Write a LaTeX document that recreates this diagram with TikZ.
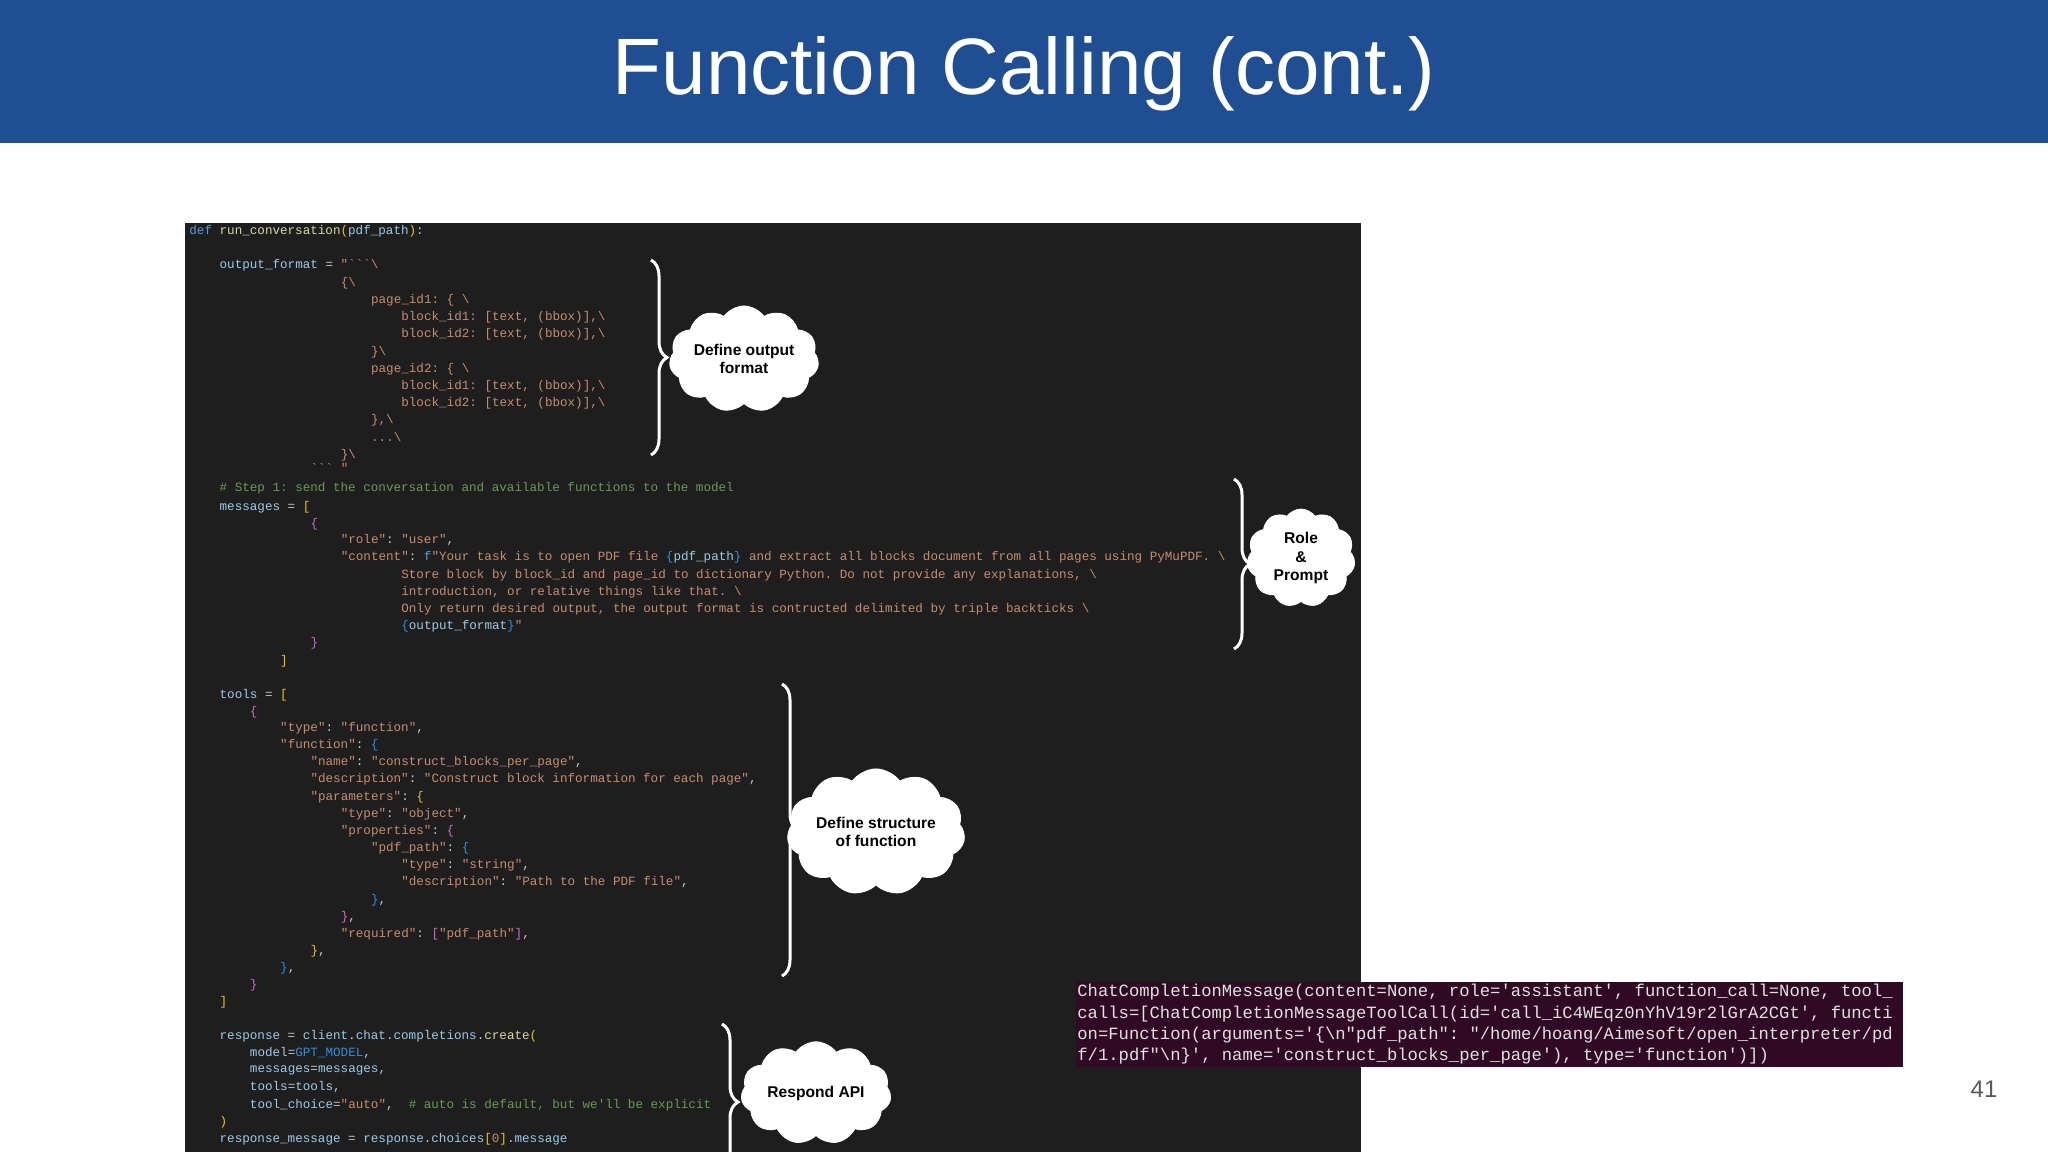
\documentclass[tikz,border=0pt]{standalone}
\usepackage{fontspec}
\setmainfont{Liberation Sans}
\setmonofont{Liberation Mono}
\usetikzlibrary{shapes.symbols,decorations.pathreplacing}
\definecolor{titlebar}{HTML}{1F4E93}
\definecolor{codebg}{HTML}{1E1E1E}
\definecolor{termbg}{HTML}{300A24}
\definecolor{cid}{HTML}{9CCBEA}
\definecolor{cst}{HTML}{C98C6F}
\definecolor{ccm}{HTML}{6A9955}
\definecolor{ckw}{HTML}{569CD6}
\definecolor{cfn}{HTML}{D8D8A6}
\definecolor{cyl}{HTML}{E8C21A}
\definecolor{cpu}{HTML}{C86CC6}
\definecolor{cbl}{HTML}{2B8FE0}
\definecolor{cop}{HTML}{C8C8C8}
\newcommand\xid[1]{\textcolor{cid}{#1}}
\newcommand\xst[1]{\textcolor{cst}{#1}}
\newcommand\xcm[1]{\textcolor{ccm}{#1}}
\newcommand\xkw[1]{\textcolor{ckw}{#1}}
\newcommand\xfn[1]{\textcolor{cfn}{#1}}
\newcommand\xyl[1]{\textcolor{cyl}{#1}}
\newcommand\xpu[1]{\textcolor{cpu}{#1}}
\newcommand\xbl[1]{\textcolor{cbl}{#1}}
\newcommand\xop[1]{\textcolor{cop}{#1}}
\newcommand\bs{\textbackslash}
\newcommand\cl[4]{\node[code] (#1) at ({189+7.57*#2},#3) {#4};}
\tikzset{
  code/.style={anchor=west,inner sep=0pt,font=\ttfamily\fontsize{6.3}{7}\selectfont,text=cop},
  cloudlbl/.style={cloud,cloud puffs=11,cloud puff arc=110,aspect=1.6,fill=white,draw=white,inner sep=0pt,align=center,font=\bfseries\fontsize{7.8}{9.2}\selectfont,text=black},
  brc/.style={draw=white,line width=1.5pt,decorate,decoration={brace,amplitude=8pt}},
}
\begin{document}
\begin{tikzpicture}[x=0.5pt,y=-0.5pt]
\useasboundingbox (0,0) rectangle (2048,1152);
\fill[white] (0,0) rectangle (2048,1152);
\fill[titlebar] (0,0) rectangle (2048,143);
\node[text=white,font=\fontsize{40}{44}\selectfont] (title) at (1024,74) {Function Calling (cont.)};
\fill[codebg] (185,223) rectangle (1361,1152);
% code
\cl{l1}{0}{231}{\xkw{def} \xfn{run\_conversation}\xyl{(}\xid{pdf\_path}\xyl{)}:}
\cl{l2}{4}{265}{\xid{output\_format} = \xst{"```\bs}}
\cl{l3}{20}{283}{\xst{\{\bs}}
\cl{l4}{24}{300}{\xst{page\_id1: \{ \bs}}
\cl{l5}{28}{317}{\xst{block\_id1: [text, (bbox)],\bs}}
\cl{l6}{28}{334}{\xst{block\_id2: [text, (bbox)],\bs}}
\cl{l7}{24}{352}{\xst{\}\bs}}
\cl{l8}{24}{369}{\xst{page\_id2: \{ \bs}}
\cl{l9}{28}{386}{\xst{block\_id1: [text, (bbox)],\bs}}
\cl{l10}{28}{403}{\xst{block\_id2: [text, (bbox)],\bs}}
\cl{l11}{24}{420}{\xst{\},\bs}}
\cl{l12}{24}{437}{\xst{...\bs}}
\cl{l13}{20}{455}{\xst{\}\bs}}
\cl{l14}{16}{468}{\xst{``` "}}
\cl{l15}{4}{488}{\xcm{\# Step 1: send the conversation and available functions to the model}}
\cl{l16}{4}{507}{\xid{messages} = \xyl{[}}
\cl{l17}{16}{524}{\xpu{\{}}
\cl{l18}{20}{540}{\xst{"role"}: \xst{"user"},}
\cl{l19}{20}{557}{\xst{"content"}: \xkw{f}\xst{"Your task is to open PDF file }\xbl{\{}\xid{pdf\_path}\xbl{\}}\xst{\ and extract all blocks document from all pages using PyMuPDF. \bs}}
\cl{l20}{28}{575}{\xst{Store block by block\_id and page\_id to dictionary Python. Do not provide any explanations, \bs}}
\cl{l21}{28}{592}{\xst{introduction, or relative things like that. \bs}}
\cl{l22}{28}{609}{\xst{Only return desired output, the output format is contructed delimited by triple backticks \bs}}
\cl{l23}{28}{626}{\xbl{\{}\xid{output\_format}\xbl{\}}\xst{"}}
\cl{l24}{16}{643}{\xpu{\}}}
\cl{l25}{12}{661}{\xyl{]}}
\cl{l26}{4}{695}{\xid{tools} = \xyl{[}}
\cl{l27}{8}{712}{\xpu{\{}}
\cl{l28}{12}{728}{\xst{"type"}: \xst{"function"},}
\cl{l29}{12}{745}{\xst{"function"}: \xbl{\{}}
\cl{l30}{16}{762}{\xst{"name"}: \xst{"construct\_blocks\_per\_page"},}
\cl{l31}{16}{779}{\xst{"description"}: \xst{"Construct block information for each page"},}
\cl{l32}{16}{797}{\xst{"parameters"}: \xyl{\{}}
\cl{l33}{20}{814}{\xst{"type"}: \xst{"object"},}
\cl{l34}{20}{831}{\xst{"properties"}: \xpu{\{}}
\cl{l35}{24}{848}{\xst{"pdf\_path"}: \xbl{\{}}
\cl{l36}{28}{865}{\xst{"type"}: \xst{"string"},}
\cl{l37}{28}{882}{\xst{"description"}: \xst{"Path to the PDF file"},}
\cl{l38}{24}{900}{\xbl{\}},}
\cl{l39}{20}{917}{\xpu{\}},}
\cl{l40}{20}{934}{\xst{"required"}: \xpu{[}\xst{"pdf\_path"}\xpu{]},}
\cl{l41}{16}{951}{\xyl{\}},}
\cl{l42}{12}{968}{\xbl{\}},}
\cl{l43}{8}{985}{\xpu{\}}}
\cl{l44}{4}{1002}{\xyl{]}}
\cl{l45}{4}{1036}{\xid{response} = \xid{client}.\xid{chat}.\xid{completions}.\xfn{create}\xyl{(}}
\cl{l46}{8}{1053}{\xid{model}=\xbl{GPT\_MODEL},}
\cl{l47}{8}{1070}{\xid{messages}=\xid{messages},}
\cl{l48}{8}{1087}{\xid{tools}=\xid{tools},}
\cl{l49}{8}{1105}{\xid{tool\_choice}=\xst{"auto"},\ \ \xcm{\# auto is default, but we'll be explicit}}
\cl{l50}{4}{1122}{\xyl{)}}
\cl{l51}{4}{1139}{\xid{response\_message} = \xid{response}.\xid{choices}\xyl{[}\xst{0}\xyl{]}.\xid{message}}
% braces
\coordinate (b1t) at (651,260); \coordinate (b1b) at (651,455);
\coordinate (b2t) at (1234,479); \coordinate (b2b) at (1234,649);
\coordinate (b3t) at (782,684); \coordinate (b3b) at (782,976);
\coordinate (b4t) at (722,1024); \coordinate (b4b) at (722,1180);
\draw[brc] (b1t) -- (b1b);
\draw[brc] (b2t) -- (b2b);
\draw[brc] (b3t) -- (b3b);
\draw[brc] (b4t) -- (b4b);
% clouds
\node[cloudlbl,minimum width=65pt,minimum height=41pt] (c1) at (744,359) {Define output\\format};
\node[cloudlbl,aspect=1.1,minimum width=54pt,minimum height=49pt] (c2) at (1301,558) {Role\\\&\\Prompt};
\node[cloudlbl,minimum width=78pt,minimum height=45pt] (c3) at (876,832) {Define structure\\of function};
\node[cloudlbl,minimum width=75pt,minimum height=45pt] (c4) at (816,1093) {Respond API};
% terminal output
\fill[termbg] (1076,982) rectangle (1903,1067);
\node[anchor=north west,inner sep=0pt,align=left,text=white!88!black,font=\ttfamily\fontsize{8.6}{10.6}\selectfont] (term) at (1077,984)
{ChatCompletionMessage(content=None, role='assistant', function\_call=None, tool\_\\
calls=[ChatCompletionMessageToolCall(id='call\_iC4WEqz0nYhV19r2lGrA2CGt', functi\\
on=Function(arguments='\{\bs n"pdf\_path": "/home/hoang/Aimesoft/open\_interpreter/pd\\
f/1.pdf"\bs n\}', name='construct\_blocks\_per\_page'), type='function')])};
\node[text=black!65,font=\fontsize{12}{14}\selectfont] (pg) at (1984,1089) {41};
\end{tikzpicture}
\end{document}
